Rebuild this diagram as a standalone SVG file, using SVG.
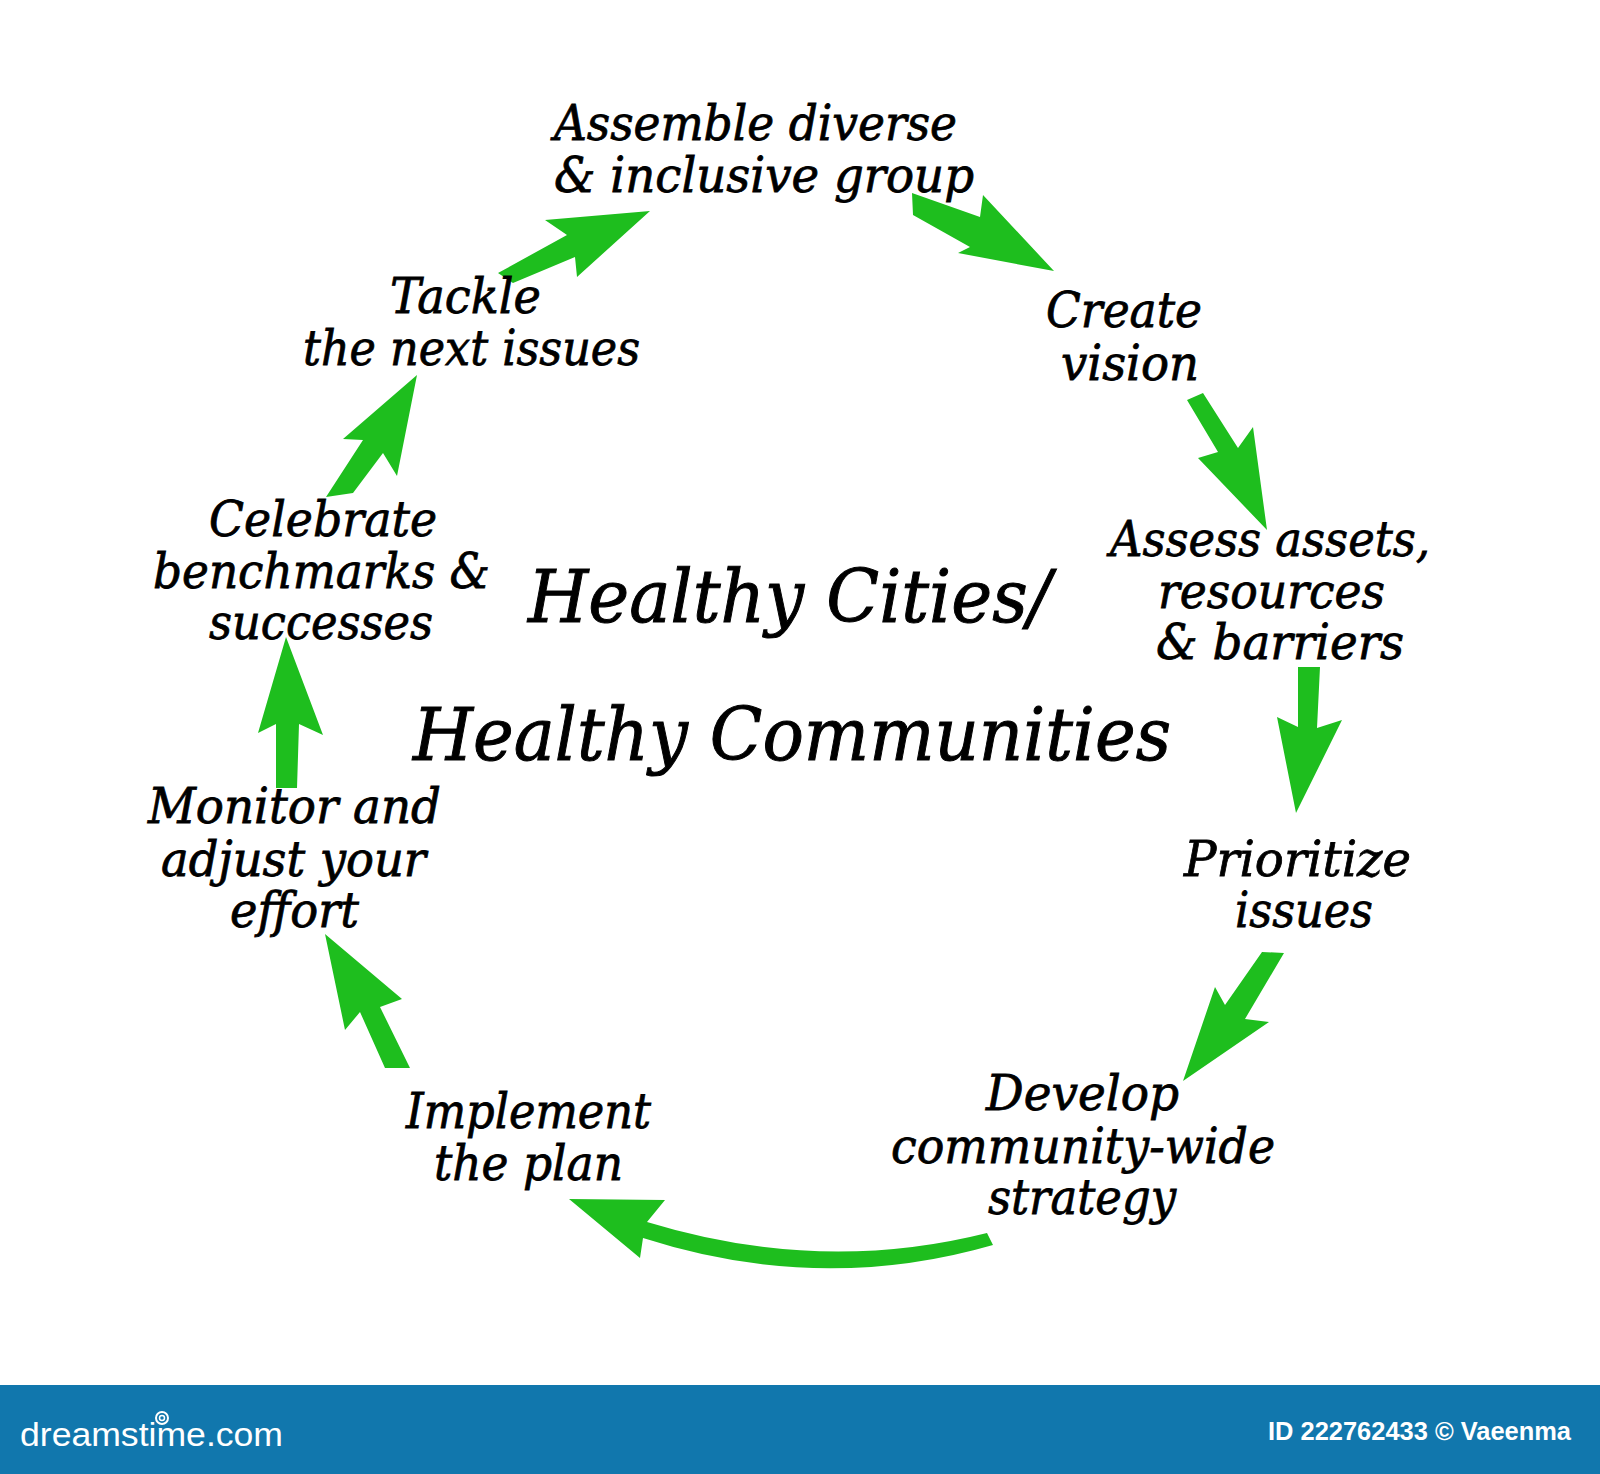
<svg xmlns="http://www.w3.org/2000/svg" width="1600" height="1474" viewBox="0 0 1600 1474">
<style>
.t{font-family:"DejaVu Serif","Liberation Serif",serif;font-style:italic;font-size:48px;fill:#000;stroke:#000;stroke-width:0.8px;}
.title{font-family:"DejaVu Serif","Liberation Serif",serif;font-style:italic;font-size:72px;fill:#000;stroke:#000;stroke-width:1px;}
.arrow{fill:#1EBE1E;stroke:none;}
.foot{font-family:"Liberation Sans","DejaVu Sans",sans-serif;fill:#fff;}
</style>
<rect x="0" y="0" width="1600" height="1474" fill="#ffffff"/>
<g id="connectors">
<polygon class="arrow" points="498,273 567,235 545,220 650,211 577,277 575,257 513,283"/>
<polygon class="arrow" points="912,193 980,217 983,195 1054,271 958,253 970,247 913,215"/>
<polygon class="arrow" points="1187,400 1203,393 1238,448 1253,427 1267,530 1198,458 1218,452"/>
<polygon class="arrow" points="1298,667 1320,667 1317,728 1342,720 1296,813 1277,717 1298,727"/>
<polygon class="arrow" points="1262,952 1284,953 1245,1019 1269,1022 1183,1081 1215,987 1225,1005"/>
<path class="arrow" d="M569,1199 L665,1200 L647,1222 Q820,1275 987,1233 L993,1245 Q820,1295 643,1238 L640,1258 Z"/>
<polygon class="arrow" points="410,1068 385,1068 360,1012 345,1030 325,934 402,999 380,1007"/>
<polygon class="arrow" points="286,637 323,735 299,724 297,788 276,788 276,724 258,733"/>
<polygon class="arrow" points="326,497 353,493 383,453 397,476 417,375 343,439 363,440"/>
</g>
<g id="node-assemble">
<text class="t" x="554" y="140" textLength="403" lengthAdjust="spacingAndGlyphs">Assemble diverse</text>
<text class="t" x="554" y="192" textLength="420" lengthAdjust="spacingAndGlyphs">&amp; inclusive group</text>
</g>
<g id="node-create">
<text class="t" x="1046" y="327" textLength="156" lengthAdjust="spacingAndGlyphs">Create</text>
<text class="t" x="1061" y="380" textLength="138" lengthAdjust="spacingAndGlyphs">vision</text>
</g>
<g id="node-assess">
<text class="t" x="1110" y="556" textLength="320" lengthAdjust="spacingAndGlyphs">Assess assets,</text>
<text class="t" x="1158" y="608" textLength="227" lengthAdjust="spacingAndGlyphs">resources</text>
<text class="t" x="1156" y="659" textLength="248" lengthAdjust="spacingAndGlyphs">&amp; barriers</text>
</g>
<g id="node-prioritize">
<text class="t" x="1184" y="876" textLength="227" lengthAdjust="spacingAndGlyphs">Prioritize</text>
<text class="t" x="1235" y="927" textLength="138" lengthAdjust="spacingAndGlyphs">issues</text>
</g>
<g id="node-develop">
<text class="t" x="986" y="1110" textLength="193" lengthAdjust="spacingAndGlyphs">Develop</text>
<text class="t" x="891" y="1163" textLength="384" lengthAdjust="spacingAndGlyphs">community-wide</text>
<text class="t" x="988" y="1214" textLength="188" lengthAdjust="spacingAndGlyphs">strategy</text>
</g>
<g id="node-implement">
<text class="t" x="406" y="1128" textLength="245" lengthAdjust="spacingAndGlyphs">Implement</text>
<text class="t" x="434" y="1180" textLength="189" lengthAdjust="spacingAndGlyphs">the plan</text>
</g>
<g id="node-monitor">
<text class="t" x="148" y="823" textLength="293" lengthAdjust="spacingAndGlyphs">Monitor and</text>
<text class="t" x="161" y="876" textLength="265" lengthAdjust="spacingAndGlyphs">adjust your</text>
<text class="t" x="230" y="927" textLength="129" lengthAdjust="spacingAndGlyphs">effort</text>
</g>
<g id="node-celebrate">
<text class="t" x="209" y="536" textLength="228" lengthAdjust="spacingAndGlyphs">Celebrate</text>
<text class="t" x="153" y="588" textLength="337" lengthAdjust="spacingAndGlyphs">benchmarks &amp;</text>
<text class="t" x="209" y="639" textLength="224" lengthAdjust="spacingAndGlyphs">successes</text>
</g>
<g id="node-tackle">
<text class="t" x="390" y="313" textLength="151" lengthAdjust="spacingAndGlyphs">Tackle</text>
<text class="t" x="303" y="365" textLength="337" lengthAdjust="spacingAndGlyphs">the next issues</text>
</g>
<g id="title">
<text class="title" x="528" y="622" textLength="523" lengthAdjust="spacingAndGlyphs">Healthy Cities/</text>
<text class="title" x="413" y="760" textLength="758" lengthAdjust="spacingAndGlyphs">Healthy Communities</text>
</g>
<g id="footer">
<rect x="0" y="1385" width="1600" height="89" fill="#1177AD"/>
<circle cx="162" cy="1418" r="6" fill="none" stroke="#fff" stroke-width="2"/>
<circle cx="162" cy="1418" r="2.5" fill="none" stroke="#fff" stroke-width="1.5"/>
<text class="foot" x="20" y="1446" font-size="34" textLength="263" lengthAdjust="spacingAndGlyphs">dreamstime.com</text>
<text class="foot" x="1268" y="1440" font-size="26" font-weight="bold" textLength="303" lengthAdjust="spacingAndGlyphs">ID 222762433 © Vaeenma</text>
</g>
</svg>
